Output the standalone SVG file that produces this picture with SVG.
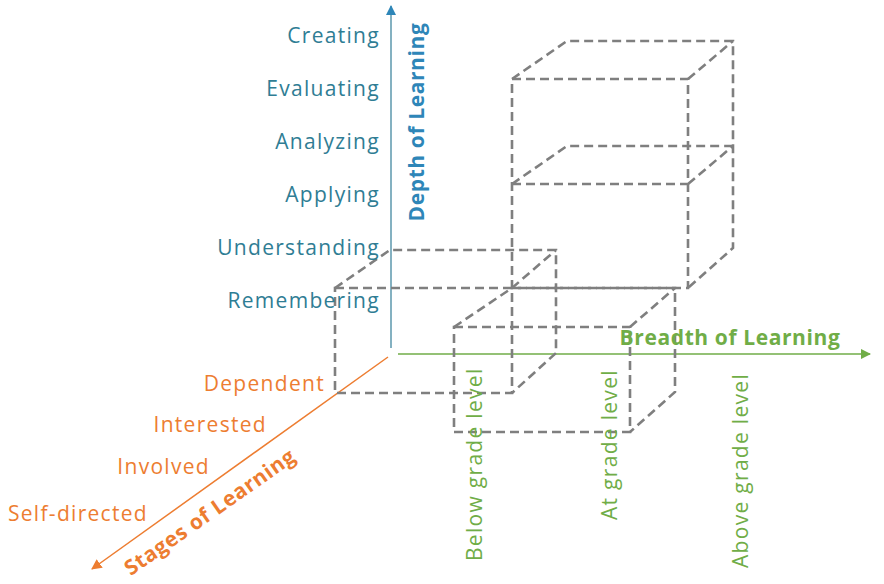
<svg xmlns="http://www.w3.org/2000/svg" width="884" height="584" viewBox="0 0 884 584">
<style>
.b{stroke:#7f7f7f;stroke-width:2.6;stroke-dasharray:9 5;fill:none}
.t{font-family:"Open Sans","Liberation Sans",sans-serif;font-size:21px;letter-spacing:1.3px}
.blue{fill:#2f7d94}.green{fill:#70ad47}.orange{fill:#ed7d31}
.bold{font-weight:bold;letter-spacing:0.6px}
</style>
<defs>
<marker id="ab" viewBox="0 0 10 10" refX="9" refY="5" markerWidth="7" markerHeight="7" orient="auto"><path d="M0,0L10,5L0,10z" fill="#2e86b8"/></marker>
<marker id="ag" viewBox="0 0 10 10" refX="9" refY="5" markerWidth="7" markerHeight="7" orient="auto"><path d="M0,0L10,5L0,10z" fill="#70ad47"/></marker>
<marker id="ao" viewBox="0 0 10 10" refX="9" refY="5" markerWidth="7" markerHeight="7" orient="auto"><path d="M0,0L10,5L0,10z" fill="#ed7d31"/></marker>
</defs>
<g id="connectors">
<line x1="391" y1="348" x2="391" y2="6" stroke="#5b97ad" stroke-width="1.5" marker-end="url(#ab)"/>
<line x1="398" y1="354" x2="870" y2="354" stroke="#70ad47" stroke-width="1.5" marker-end="url(#ag)"/>
<line x1="388" y1="357" x2="92" y2="569" stroke="#ed7d31" stroke-width="1.5" marker-end="url(#ao)"/>
</g>
<g id="cubeA">
<rect class="b" x="335" y="288" width="177" height="105"/>
<path class="b" d="M335,288L390,250H556V353L512,393M512,288L556,250"/>
</g>
<g id="cubeB">
<rect class="b" x="512" y="79" width="176" height="209"/>
<path class="b" d="M512,79L567,41H733V248L688,288M688,79L733,41M512,184H688M512,184L567,146H733M688,184L733,146"/>
</g>
<g id="cubeC">
<rect class="b" x="454" y="327" width="176" height="105"/>
<path class="b" d="M454,327L512,288H675V392L630,432M630,327L675,288"/>
</g>
<g id="labels">
<g class="t blue" text-anchor="end">
<text x="380" y="43">Creating</text>
<text x="380" y="96">Evaluating</text>
<text x="380" y="149">Analyzing</text>
<text x="380" y="202">Applying</text>
<text x="380" y="255">Understanding</text>
<text x="380" y="308">Remembering</text>
</g>
<text class="t bold" fill="#2e86b8" transform="translate(424,122) rotate(-90)" text-anchor="middle">Depth of Learning</text>
<text class="t bold green" x="730" y="345" text-anchor="middle">Breadth of Learning</text>
<g class="t green" text-anchor="start">
<text transform="translate(482,561) rotate(-90)">Below grade level</text>
<text transform="translate(617,520) rotate(-90)">At grade level</text>
<text transform="translate(748,568) rotate(-90)">Above grade level</text>
</g>
<g class="t orange" text-anchor="end">
<text x="325" y="391">Dependent</text>
<text x="267" y="432">Interested</text>
<text x="210" y="474">Involved</text>
<text x="148" y="521">Self-directed</text>
</g>
<text class="t bold orange" transform="translate(214,518) rotate(-35)" text-anchor="middle">Stages of Learning</text>
</g>
</svg>
